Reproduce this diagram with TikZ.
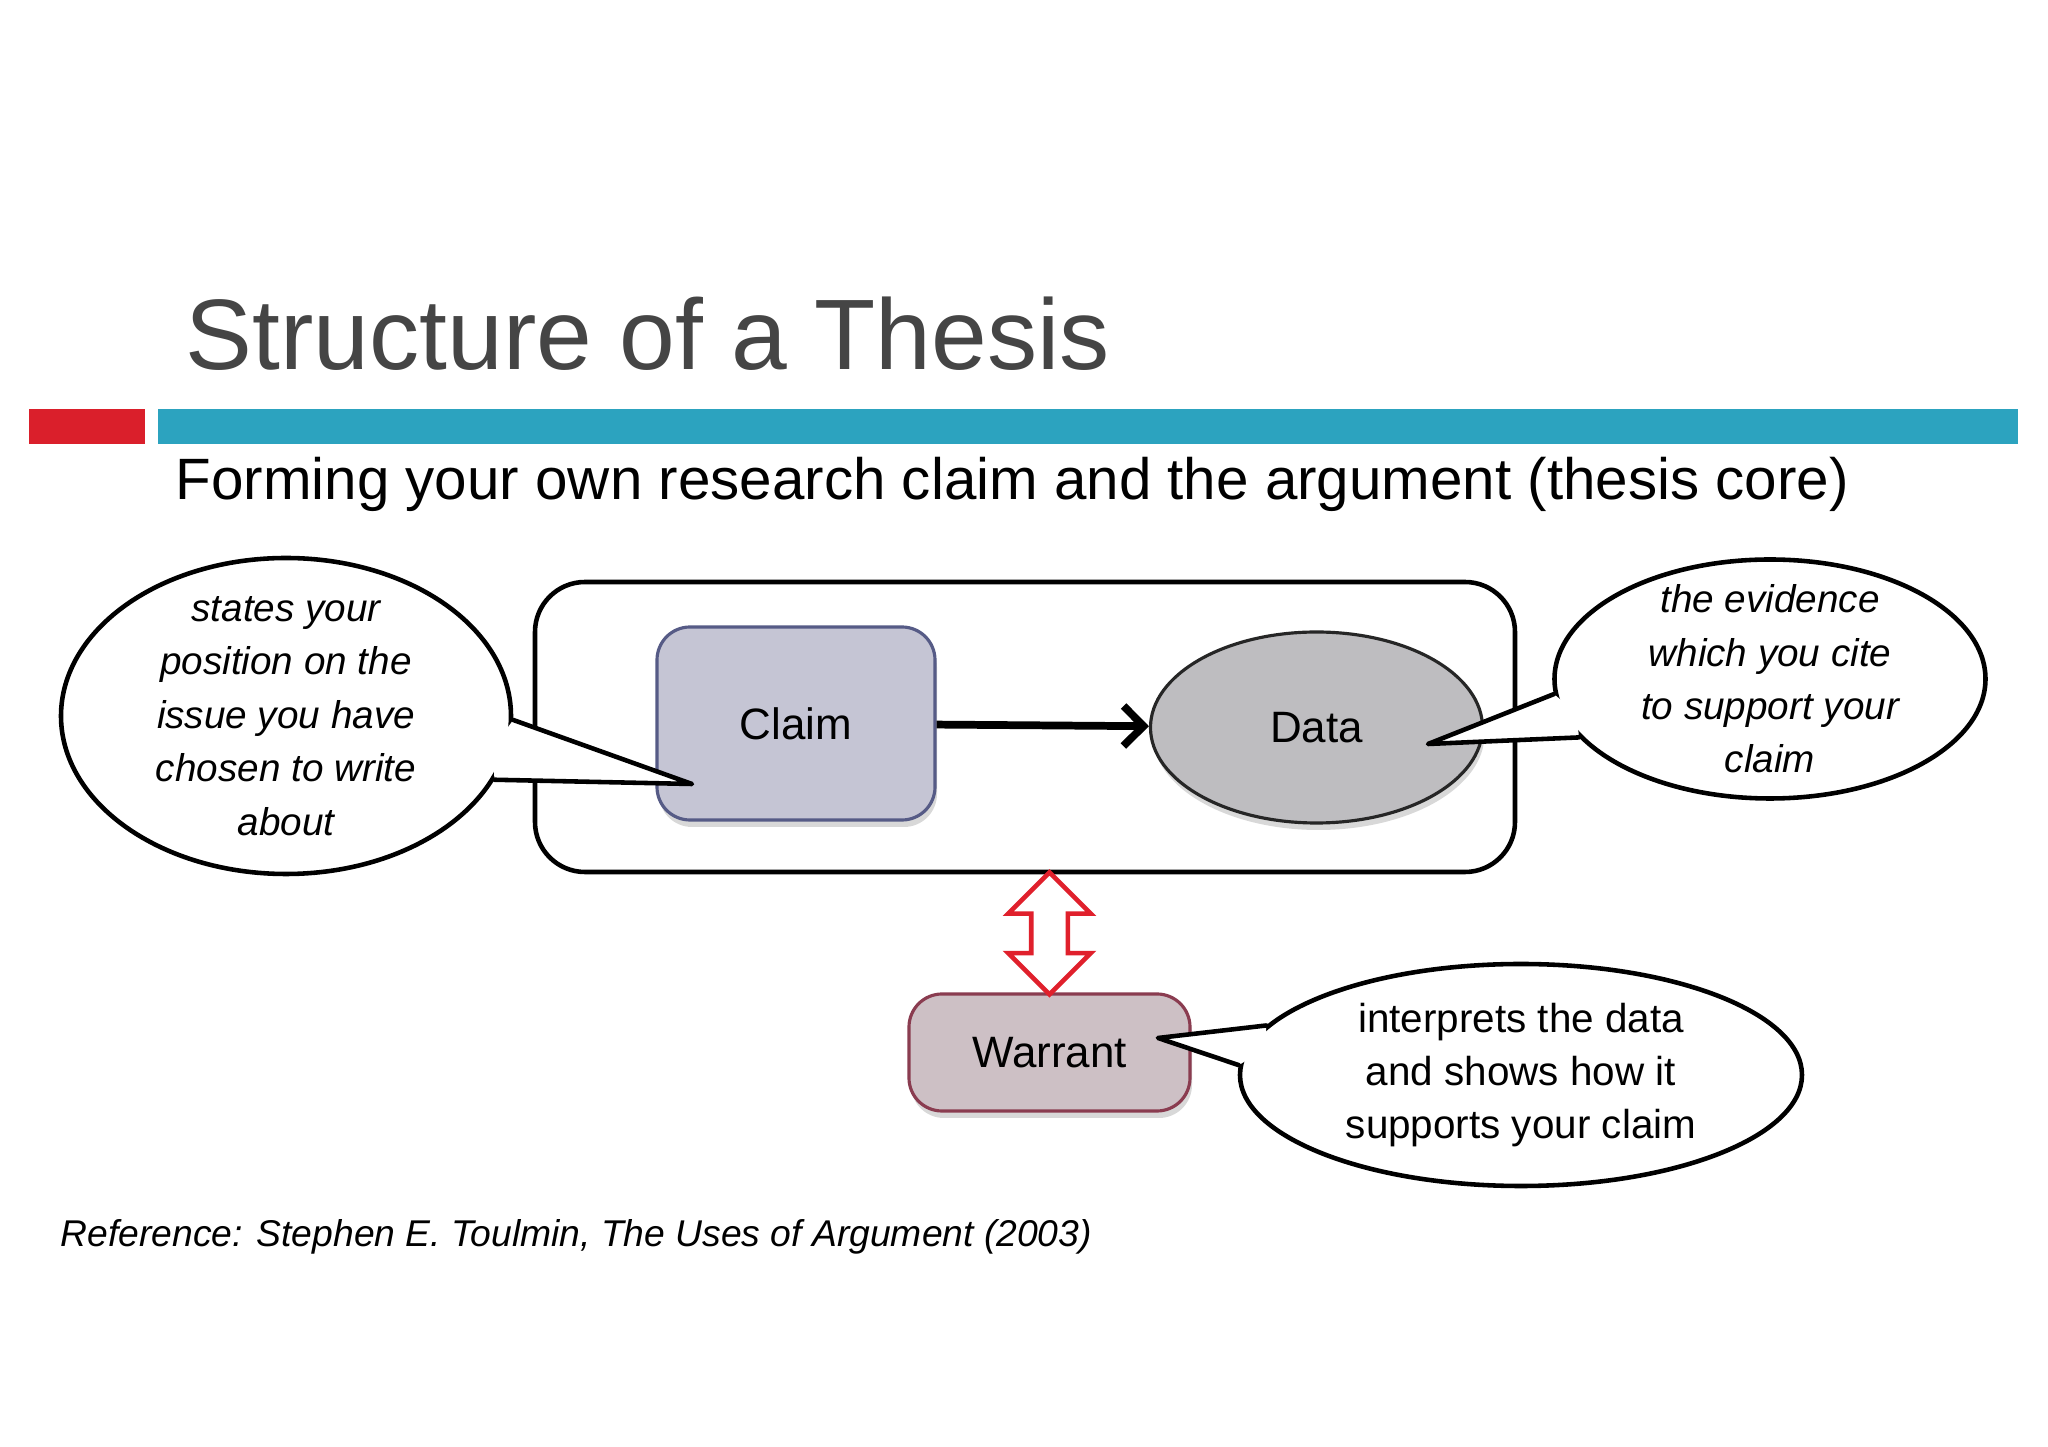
\documentclass[tikz,border=0pt]{standalone}
\usepackage{fontspec}
\setmainfont{Liberation Sans}
\usetikzlibrary{arrows.meta,positioning,calc,shapes.geometric,shapes.arrows,shadows}
\definecolor{titlegray}{HTML}{454545}
\definecolor{barred}{HTML}{DA1F2B}
\definecolor{barteal}{HTML}{2CA3BF}
\definecolor{claimfill}{HTML}{C5C5D4}
\definecolor{claimline}{HTML}{565B86}
\definecolor{datafill}{HTML}{BEBDC0}
\definecolor{warrantfill}{HTML}{CDC0C5}
\definecolor{warrantline}{HTML}{8A3C50}
\definecolor{linkred}{HTML}{E0202C}
\tikzset{
  thesisbox/.style={draw=black, line width=1.3pt, rectangle, rounded corners=0.5cm, minimum width=9.8cm, minimum height=2.9cm},
  elementbox/.style={rectangle, rounded corners=0.33cm, line width=0.9pt, align=center, font=\fontsize{12.5}{15}\selectfont, drop shadow={shadow xshift=0.02cm, shadow yshift=-0.07cm, opacity=0.3}},
  databall/.style={ellipse, draw=black!85, line width=0.9pt, fill=datafill, font=\fontsize{12.5}{15}\selectfont, drop shadow={shadow xshift=0.02cm, shadow yshift=-0.07cm, opacity=0.3}},
  flow/.style={-{Straight Barb[length=0.2cm, width=0.4cm]}, line width=2.2pt, draw=black},
  linkarrow/.style={double arrow, draw=linkred, fill=white, line width=1.3pt, rotate=90, minimum height=1.22cm, minimum width=0pt, inner xsep=0pt, inner ysep=0.16cm, double arrow head extend=0.23cm},
  bubble/.style={ellipse, draw=black, fill=white, line width=1.3pt, inner sep=0pt},
  bubbletail/.style={draw=black, line width=1.3pt, line join=round, line cap=round},
  bubbletext/.style={align=center, inner sep=0pt, font=\fontsize{11}{15.2}\selectfont\itshape}
}

\begin{document}
\begin{tikzpicture}
  \useasboundingbox[fill=white] (0,0) rectangle (20.48,-14.47);
  % header
  \fill[barred] (0.29,-4.09) rectangle (1.45,-4.44);
  \fill[barteal] (1.58,-4.09) rectangle (20.18,-4.44);
  \node[anchor=base west, inner sep=0pt, text=titlegray, font=\fontsize{28.5}{34}\selectfont] (title) at (1.85,-3.70) {Structure of a Thesis};
  \node[anchor=base west, inner sep=0pt, font=\fontsize{16.6}{20}\selectfont] (subtitle) at (1.75,-5.00) {Forming your own research claim and the argument (thesis core)};

  % thesis core
  \node[thesisbox] (core) at (10.25,-7.27) {};
  \node[elementbox, fill=claimfill, draw=claimline, minimum width=2.78cm, minimum height=1.93cm] (claim) at (7.96,-7.235) {Claim};
  \node[databall, minimum width=3.32cm, minimum height=1.91cm] (data) at (13.165,-7.275) {Data};
  \draw[flow] (claim) -- (data);
  \node[elementbox, fill=warrantfill, draw=warrantline, minimum width=2.81cm, minimum height=1.17cm] (warrant) at (10.495,-10.525) {Warrant};
  \node[linkarrow] (link) at ($(warrant.north)!0.5!(warrant.north |- core.south)$) {};

  % speech bubbles
  \node[bubble, minimum width=4.5cm, minimum height=3.16cm] (claimnote) at (2.86,-7.16) {};
  \coordinate (claimtip) at (6.92,-7.84);
  \fill[white] (claimnote.-1.5) -- (claimtip) -- (claimnote.-17.8) -- ($(claimnote.center)!0.93!(claimnote.-9.6)$) -- cycle;
  \draw[bubbletail] (claimnote.-1.5) -- (claimtip) -- (claimnote.-17.8);
  \node[bubbletext] (claimnotetext) at (claimnote) {states your\\position on the\\issue you have\\chosen to write\\about};

  \node[bubble, minimum width=4.31cm, minimum height=2.39cm] (datanote) at (17.70,-6.79) {};
  \coordinate (datatip) at (14.28,-7.44);
  \fill[white] (datanote.184.2) -- (datatip) -- (datanote.197.5) -- ($(datanote.center)!0.93!(datanote.190.8)$) -- cycle;
  \draw[bubbletail] (datanote.184.2) -- (datatip) -- (datanote.197.5);
  \node[bubbletext] (datanotetext) at (datanote) {the evidence\\which you cite\\to support your\\claim};

  \node[bubble, minimum width=5.62cm, minimum height=2.22cm] (warrantnote) at (15.21,-10.75) {};
  \coordinate (warranttip) at (11.58,-10.38);
  \fill[white] (warrantnote.169.5) -- (warranttip) -- (warrantnote.178.7) -- ($(warrantnote.center)!0.93!(warrantnote.174.1)$) -- cycle;
  \draw[bubbletail] (warrantnote.169.5) -- (warranttip) -- (warrantnote.178.7);
  \node[bubbletext, font=\fontsize{11.5}{15.2}\selectfont] (warrantnotetext) at (warrantnote) {interprets the data\\and shows how it\\supports your claim};

  \node[anchor=base west, inner sep=0pt, font=\fontsize{10.6}{13}\selectfont\itshape] (reference) at (0.60,-12.47) {Reference: Stephen E. Toulmin, The Uses of Argument (2003)};
\end{tikzpicture}
\end{document}
